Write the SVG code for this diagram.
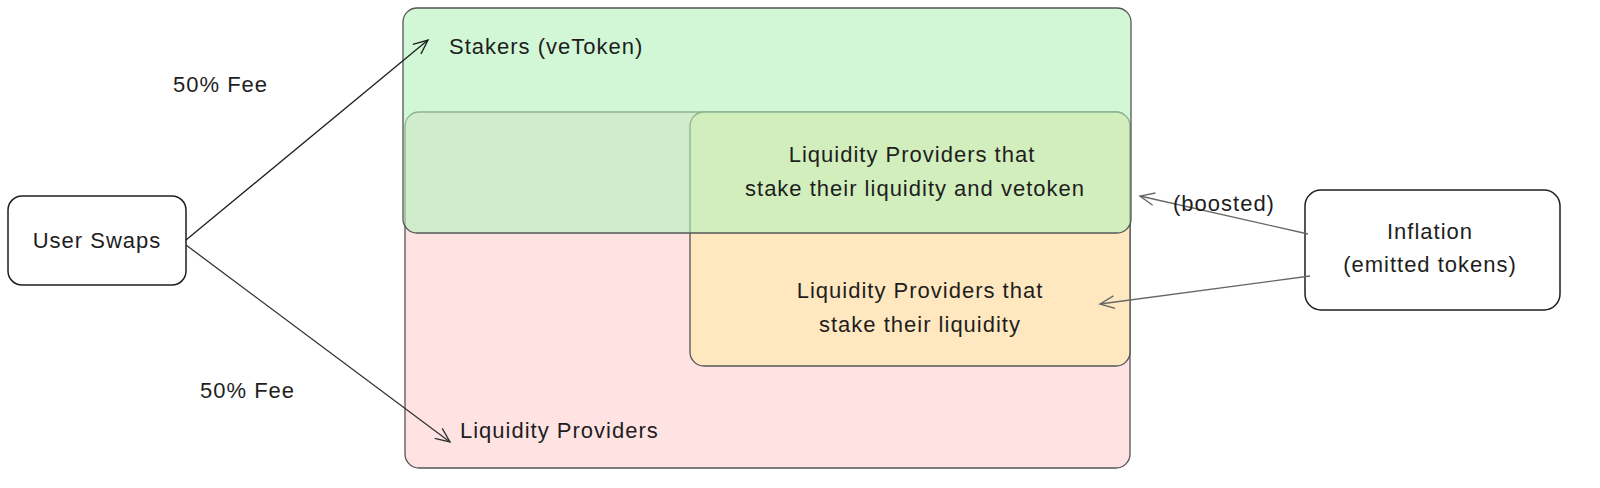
<svg xmlns="http://www.w3.org/2000/svg" width="1600" height="488" viewBox="0 0 1600 488">
<defs>
<style>
text{font-family:"Liberation Sans",Arial,sans-serif;font-size:22px;letter-spacing:1px;fill:#1e1e1e}
.c{text-anchor:middle}
.box{stroke:#555;stroke-width:1.3}
.node{fill:#fff;stroke:#1e1e1e;stroke-width:1.5}
.ln{fill:none;stroke-width:1.3}
</style>
<marker id="ah" viewBox="0 0 20 20" refX="18" refY="10" markerWidth="18" markerHeight="18" markerUnits="userSpaceOnUse" orient="auto"><path d="M2 3 L18 10 L2 17" fill="none" stroke="context-stroke" stroke-width="1.5"/></marker>
</defs>
<rect width="1600" height="488" fill="#fff"/>
<g id="lp"><rect class="box" x="405" y="112" width="725" height="356" rx="14" fill="#ffe3e3"/><text x="460" y="438">Liquidity Providers</text></g>
<g id="lp-stake"><rect class="box" x="690" y="112" width="440" height="254" rx="14" fill="#ffe8bf"/><text class="c" x="920" y="298">Liquidity Providers that</text><text class="c" x="920" y="332">stake their liquidity</text></g>
<g id="stakers"><rect class="box" x="403" y="8" width="728" height="225" rx="14" fill="#b2f2bb" fill-opacity="0.6"/><text x="449" y="54">Stakers (veToken)</text></g>
<g id="lp-stake-ve"><text class="c" x="912" y="162">Liquidity Providers that</text><text class="c" x="915" y="196">stake their liquidity and vetoken</text></g>
<g id="user"><rect class="node" x="8" y="196" width="178" height="89" rx="14"/><text class="c" x="97" y="248">User Swaps</text></g>
<g id="inflation"><rect class="node" x="1305" y="190" width="255" height="120" rx="16"/><text class="c" x="1430" y="239">Inflation</text><text class="c" x="1430" y="272">(emitted tokens)</text></g>
<g id="connectors">
<path class="ln" d="M186 240 L428 40" stroke="#1e1e1e" marker-end="url(#ah)"/>
<path class="ln" d="M186 245 L450 442" stroke="#333" marker-end="url(#ah)"/>
<path class="ln" d="M1308 234 L1140 196" stroke="#666" stroke-width="1.8" marker-end="url(#ah)"/>
<path class="ln" d="M1310 276 L1100 304" stroke="#666" stroke-width="1.8" marker-end="url(#ah)"/>
<text x="173" y="92">50% Fee</text>
<text x="200" y="398">50% Fee</text>
<text x="1173" y="211">(boosted)</text>
</g>
</svg>
